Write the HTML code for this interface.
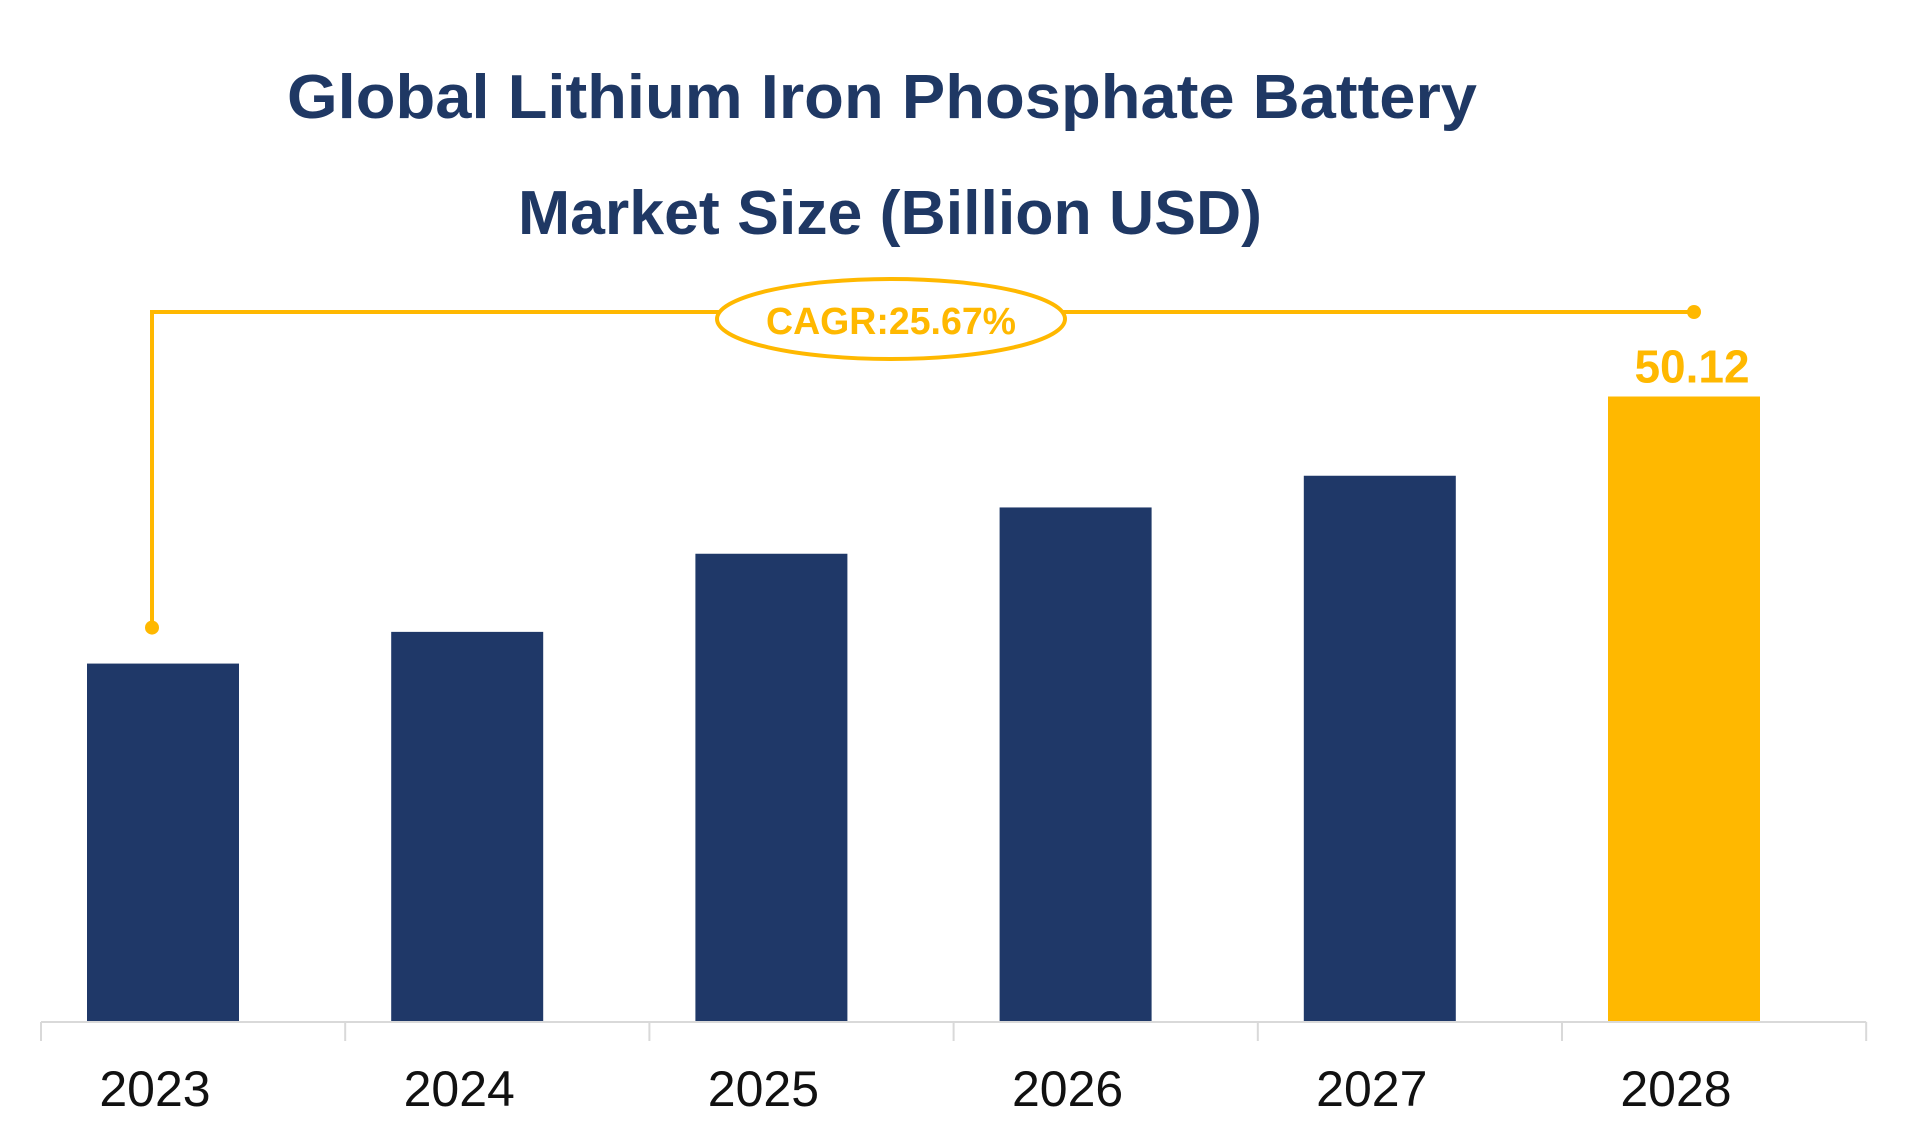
<!DOCTYPE html>
<html><head><meta charset="utf-8"><style>html,body{margin:0;padding:0;background:#fff}svg{display:block}</style></head>
<body>
<svg id="chart" width="1912" height="1147" viewBox="0 0 1912 1147" xmlns="http://www.w3.org/2000/svg" font-family="'Liberation Sans', sans-serif">
<text x="882" y="118" text-anchor="middle" font-size="62" font-weight="bold" fill="#1f3864" textLength="1190" lengthAdjust="spacingAndGlyphs">Global Lithium Iron Phosphate Battery</text>
<text x="890" y="234" text-anchor="middle" font-size="62" font-weight="bold" fill="#1f3864" textLength="744" lengthAdjust="spacingAndGlyphs">Market Size (Billion USD)</text>
<g id="bars"></g>
<g id="axis"></g>
<g id="cagr"></g>
</svg>
<script>
const categories = ["2023","2024","2025","2026","2027","2028"];
const values = [28.72, 31.26, 37.52, 41.23, 43.77, 50.12];
const cagrLabel = "CAGR:25.67%";
const NS = "http://www.w3.org/2000/svg";
const axisY = 1022, axisLeft = 41, step = 304.2, pxPerUnit = 12.48, barW = 152, barOff = 46;
function xBand(i){ return axisLeft + i*step; }
function yVal(v){ return axisY - v*pxPerUnit; }
function mk(tag, attrs, parent){ const e=document.createElementNS(NS,tag); for(const k in attrs) e.setAttribute(k,attrs[k]); parent.appendChild(e); return e; }
const bars=document.getElementById('bars'), axis=document.getElementById('axis'), cagr=document.getElementById('cagr');
const last = values.length-1;
values.forEach((v,i)=>{
  const r=mk('rect',{x:xBand(i)+barOff,y:yVal(v),width:barW,height:axisY-yVal(v),fill:i===last?'#FFB800':'#1F3868'},bars);
  
  
  const t=mk('text',{x:xBand(i)+barOff+barW/2-8,y:1106,'text-anchor':'middle','font-size':50,fill:'#111'},axis);
  t.textContent=categories[i];
  
  
});
const al=mk('line',{x1:axisLeft,y1:axisY,x2:xBand(categories.length),y2:axisY,stroke:'#d9d9d9','stroke-width':2},axis);


for(let i=0;i<=categories.length;i++){
  const tk=mk('line',{x1:xBand(i),y1:axisY,x2:xBand(i),y2:1041,stroke:'#d9d9d9','stroke-width':2},axis);
  
  
}
const vl=mk('text',{x:xBand(last)+barOff+barW/2+8,y:yVal(values[last])-14,'text-anchor':'middle','font-size':46,'font-weight':'bold',fill:'#FFB800'},cagr);
vl.textContent=values[last].toFixed(2);


const lx=xBand(0)+111, rx=xBand(last)+barOff+barW/2+10, ly=312;
const p=mk('path',{d:`M${lx} ${yVal(values[0])-36} L${lx} ${ly} L${rx} ${ly}`,fill:'none',stroke:'#FFB800','stroke-width':4},cagr);


const d1=mk('circle',{cx:lx,cy:yVal(values[0])-36,r:7,fill:'#FFB800'},cagr);


const d2=mk('circle',{cx:rx,cy:ly,r:7,fill:'#FFB800'},cagr);


const el=mk('ellipse',{cx:891,cy:319,rx:174,ry:40,fill:'#fff',stroke:'#FFB800','stroke-width':4},cagr);


const ct=mk('text',{x:891,y:334,'text-anchor':'middle','font-size':38,'font-weight':'bold',fill:'#FFB800',textLength:250,lengthAdjust:'spacingAndGlyphs'},cagr);
ct.textContent=cagrLabel;


</script>
</body></html>
